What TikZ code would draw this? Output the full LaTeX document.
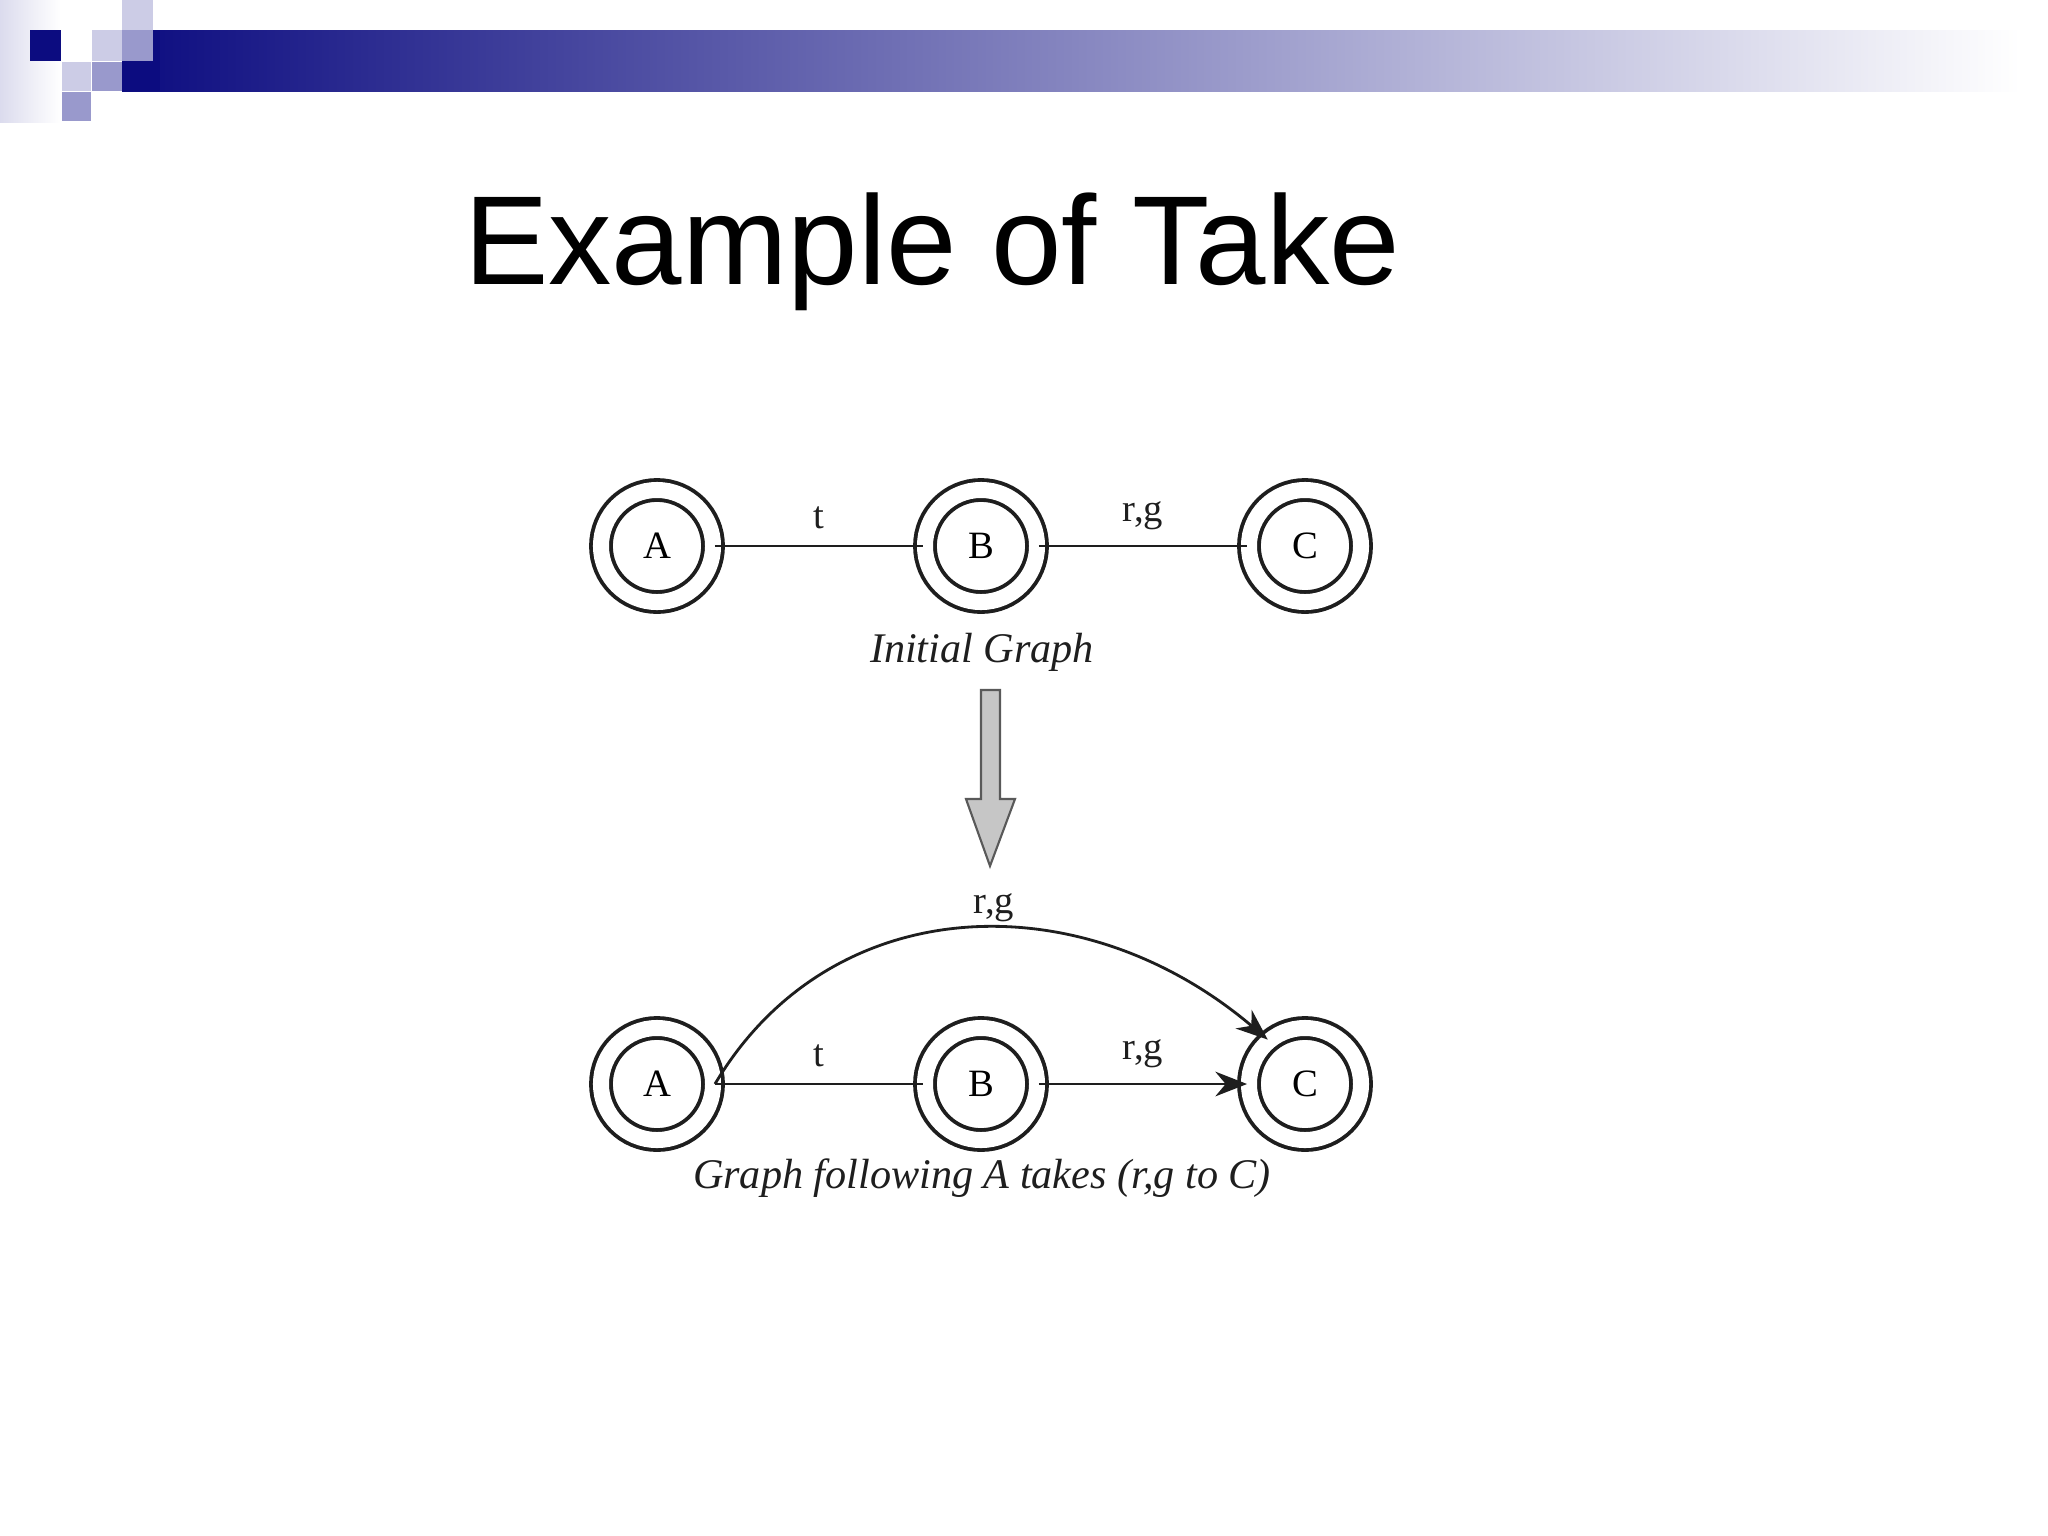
\documentclass[tikz,border=0pt]{standalone}
\usepackage{fontspec}
\setmainfont{Liberation Serif}
\newfontfamily\titlefont{Liberation Sans}
\usetikzlibrary{arrows.meta}
\definecolor{navy}{RGB}{12,12,128}
\definecolor{lav}{RGB}{204,204,230}
\definecolor{mlav}{RGB}{153,153,204}
\definecolor{ink}{RGB}{30,30,30}
\tikzset{
 st/.style={circle,draw=ink,line width=1.1pt,minimum size=1.12cm,inner sep=0pt,font=\fontsize{11}{11}\selectfont,
   double=white,double distance=0.16cm},
 lbl/.style={font=\fontsize{11}{11}\selectfont,text=ink},
 captxt/.style={font=\fontsize{12}{12}\selectfont\itshape,text=ink},
 ed/.style={draw=ink,line width=0.8pt},
}
\begin{document}
\begin{tikzpicture}[x=0.01cm,y=-0.01cm]
\useasboundingbox (0,0) rectangle (2048,1536);
\fill[white] (0,0) rectangle (2048,1536);
% decoration
\shade[left color=lav!70,right color=white] (0,0) rectangle (60,122);
\shade[left color=navy,right color=white] (122,30) rectangle (2020,91);
\fill[navy] (122,30) rectangle (160,91);
\fill[navy] (30,30) rectangle (61,61);
\fill[lav] (62,62) rectangle (91,91);
\fill[mlav] (92,62) rectangle (122,91);
\fill[lav] (92,30) rectangle (122,61);
\fill[mlav] (122,30) rectangle (153,61);
\fill[lav] (122,0) rectangle (153,30);
\fill[mlav] (62,92) rectangle (91,121);
% title
\node[font=\titlefont\fontsize{36}{36}\selectfont] (title) at (932,252) {Example of Take};
% top graph
\node[st] (A1) at (657,546) {A};
\node[st] (B1) at (981,546) {B};
\node[st] (C1) at (1305,546) {C};
\draw[ed] (A1) -- node[lbl,above=1pt]{t} (B1);
\draw[ed] (B1) -- node[lbl,above=1pt]{r,g} (C1);
\node[captxt] (cap1) at (982,652) {Initial Graph};
% big arrow
\draw[draw=gray!70!black,fill=gray!45,line width=0.6pt]
 (981,690) -- (1000,690) -- (1000,799) -- (1015,799) -- (990,866) -- (966,799) -- (981,799) -- cycle;
% bottom graph
\node[st] (A2) at (657,1084) {A};
\node[st] (B2) at (981,1084) {B};
\node[st] (C2) at (1305,1084) {C};
\draw[ed] (A2) -- node[lbl,above=1pt]{t} (B2);
\draw[ed,-{Stealth[length=9pt,width=7pt]}] (B2) -- node[lbl,above=1pt]{r,g} (C2);
\draw[ed,-{Stealth[length=9pt,width=7pt]}] (A2.east) .. controls (830,890) and (1080,880) .. (C2.130);
\node[lbl] (rg3) at (994,908) {r,g};
\node[captxt] (cap2) at (982,1178) {Graph following A takes (r,g to C)};
\end{tikzpicture}
\end{document}
